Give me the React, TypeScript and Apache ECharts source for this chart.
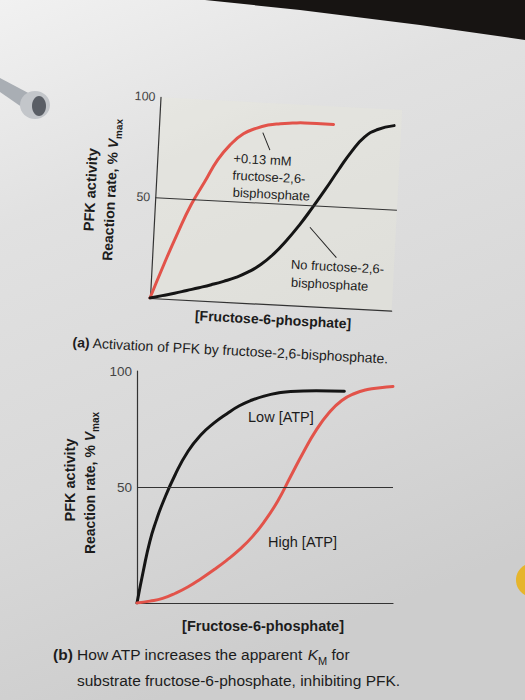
import React, { useEffect, useRef } from "react";
import * as echarts from "echarts";

// Panel (a): activation of PFK by fructose-2,6-bisphosphate ([F6P] in arbitrary units 0-10, rate in % Vmax)
const withF26BP: number[][] = [
  [0, 0], [0.5, 17], [1, 33], [1.5, 47.5], [2, 59], [2.5, 70.5], [3, 78.5], [3.5, 84],
  [4, 87], [4.5, 89], [5, 90], [5.5, 90.6], [6, 91], [6.5, 91], [7.2, 91],
];
const noF26BP: number[][] = [
  [0, 0], [0.5, 1.5], [1, 3], [1.5, 4.7], [2, 6.4], [2.5, 8.2], [3, 10.2], [3.5, 12.5],
  [4, 15.5], [4.5, 19.5], [5, 25], [5.5, 32], [6, 40], [6.5, 49], [7, 58.5], [7.5, 68.5],
  [8, 78], [8.5, 85.5], [9, 89.5], [9.7, 92],
];
// Panel (b): ATP raises the apparent KM
const lowATP: number[][] = [
  [0, 0], [0.25, 14], [0.5, 26.5], [0.75, 35.5], [1, 43], [1.5, 55.5], [2, 65.5], [2.5, 72.5],
  [3, 77.5], [3.5, 81.5], [4, 85], [4.5, 87.5], [5, 89.3], [5.5, 90.5], [6, 91.2], [7, 91.5], [8.1, 91.3],
];
const highATP: number[][] = [
  [0, 0], [0.5, 0.8], [1, 2], [1.5, 4.2], [2, 7], [2.5, 10.5], [3, 14.3], [3.5, 18.4], [4, 23],
  [4.5, 28.5], [5, 35.5], [5.5, 44], [6, 54.5], [6.5, 65], [7, 74.5], [7.5, 82], [8, 87.3],
  [8.5, 90.3], [9, 92], [9.5, 92.8], [10, 93.3],
];
const yTickValues = [0, 50, 100];
const yTickLabels = ["", "50", "100"];

const FONT = '"Liberation Sans", Arial, sans-serif';
const RED = "#e2534a";
const BLACK = "#151515";
const INK = "#1c1c1c";

function axisPair(grid: number, labelSize: number) {
  const x = {
    gridIndex: grid, type: "value", min: 0, max: 10,
    axisLine: { show: true, lineStyle: { color: "#333", width: 1.2 } },
    axisTick: { show: false }, axisLabel: { show: false }, splitLine: { show: false },
  };
  const y = {
    gridIndex: grid, type: "value", min: 0, max: 100, interval: 50,
    axisLine: { show: true, lineStyle: { color: "#333", width: 1.2 } },
    axisTick: { show: false }, splitLine: { show: false },
    axisLabel: {
      color: "#444", fontSize: labelSize, fontFamily: FONT, margin: 5,
      formatter: (v: number) => yTickLabels[yTickValues.indexOf(v)] ?? "",
    },
  };
  return { x, y };
}

function curve(data: number[][], color: string, withMark: boolean) {
  const s: any = {
    type: "line", data, smooth: 0.5,
    showSymbol: false, symbol: "none", silent: true,
    lineStyle: { color, width: 3, cap: "round", join: "round" },
  };
  if (withMark) {
    s.markLine = {
      silent: true, symbol: "none", label: { show: false },
      lineStyle: { color: "#333", width: 1, type: "solid" },
      data: [{ yAxis: 50 }],
    };
  }
  return s;
}

function txt(text: string, x: number, y: number, extra: any = {}) {
  return {
    type: "text", x, y, silent: true,
    style: {
      text, fontFamily: FONT, fontSize: 13, fill: INK,
      textAlign: "left", textVerticalAlign: "middle", ...extra,
    },
  };
}

function yTitle(cx1: number, cy1: number, cx2: number, cy2: number) {
  return [
    {
      type: "text", x: cx1, y: cy1, rotation: Math.PI / 2, silent: true,
      style: {
        text: "PFK activity", fontFamily: FONT, fontSize: 14.5, fontWeight: "bold",
        fill: INK, textAlign: "center", textVerticalAlign: "middle",
      },
    },
    {
      type: "text", x: cx2, y: cy2, rotation: Math.PI / 2, silent: true,
      style: {
        text: "{b|Reaction rate, % }{v|V}{s|max}",
        fontFamily: FONT, fill: INK, textAlign: "center", textVerticalAlign: "middle",
        rich: {
          b: { fontFamily: FONT, fontSize: 14, fontWeight: "bold", fill: INK, verticalAlign: "bottom" },
          v: { fontFamily: FONT, fontSize: 14, fontWeight: "bold", fontStyle: "italic", fill: INK, verticalAlign: "bottom" },
          s: { fontFamily: FONT, fontSize: 10, fontWeight: "bold", fill: INK, verticalAlign: "bottom", padding: [0, 0, -3, 0] },
        },
      },
    },
  ];
}

export default function App() {
  const refA = useRef<HTMLDivElement>(null);
  const refB = useRef<HTMLDivElement>(null);
  useEffect(() => {
    // Base layer: page background + panel (b)
    const chartB = echarts.init(refB.current!, null, { renderer: "svg" });
    const b = axisPair(0, 13.5);
    chartB.setOption({
      animation: false,
      backgroundColor: {
        type: "linear", x: 0, y: 0, x2: 0.3, y2: 1,
        colorStops: [
          { offset: 0, color: "#f1f1f1" },
          { offset: 0.3, color: "#e1e1e1" },
          { offset: 0.7, color: "#d8d8d8" },
          { offset: 1, color: "#cdcdcd" },
        ],
      },
      grid: [{ left: 137, top: 371, width: 256, height: 232, show: false }],
      xAxis: [b.x],
      yAxis: [b.y],
      series: [curve(lowATP, BLACK, true), curve(highATP, RED, false)],
      graphic: [
        { type: "polygon", silent: true, shape: { points: [[205, 0], [525, 0], [525, 40], [420, 25], [300, 10]] }, style: { fill: "#171412" } },
        { type: "polygon", silent: true, shape: { points: [[0, 78], [0, 92], [26, 110], [34, 96]] }, style: { fill: "#a9aeb4" } },
        { type: "ellipse", silent: true, shape: { cx: 35, cy: 105, rx: 15, ry: 14 }, style: { fill: "#c3c6ca" } },
        { type: "ellipse", silent: true, shape: { cx: 39, cy: 106, rx: 7, ry: 10 }, style: { fill: "#5a5e65" } },
        { type: "circle", silent: true, shape: { cx: 533, cy: 580, r: 17 }, style: { fill: "#e6b52c" } },
        txt("Low [ATP]", 248, 417, { fontSize: 14.5 }),
        txt("High [ATP]", 268, 542, { fontSize: 14.5 }),
        txt("[Fructose-6-phosphate]", 263, 626, { fontWeight: "bold", textAlign: "center", fontSize: 14.5 }),
        {
          type: "text", x: 53, y: 654, silent: true,
          style: {
            text: "{b|(b)} How ATP increases the apparent {k|K}{s|M} for",
            fontFamily: FONT, fontSize: 15.5, fill: INK, textVerticalAlign: "middle",
            rich: {
              b: { fontFamily: FONT, fontSize: 15.5, fontWeight: "bold", fill: INK, verticalAlign: "bottom" },
              k: { fontFamily: FONT, fontSize: 15.5, fontStyle: "italic", fill: INK, verticalAlign: "bottom" },
              s: { fontFamily: FONT, fontSize: 11, fill: INK, verticalAlign: "bottom", padding: [0, 0, -4, 0] },
            },
          },
        },
        txt("substrate fructose-6-phosphate, inhibiting PFK.", 77, 680, { fontSize: 15.5 }),
        ...yTitle(70, 480, 90, 483),
      ],
    });

    // Overlay: panel (a), tilted like the photographed page
    const chartA = echarts.init(refA.current!, null, { renderer: "svg" });
    const a = axisPair(0, 12.5);
    chartA.setOption({
      animation: false,
      backgroundColor: "transparent",
      grid: [{ left: 150, top: 97, width: 242, height: 201, show: true, borderWidth: 0, backgroundColor: "rgba(232,232,218,0.35)" }],
      xAxis: [a.x],
      yAxis: [a.y],
      series: [curve(withF26BP, RED, true), curve(noF26BP, BLACK, false)],
      graphic: [
        { type: "line", silent: true, shape: { x1: 254, y1: 127, x2: 262, y2: 144 }, style: { stroke: "#222", lineWidth: 1 } },
        txt("+0.13 mM", 226, 154),
        txt("fructose-2,6-", 226, 171),
        txt("bisphosphate", 227, 188),
        { type: "line", silent: true, shape: { x1: 306, y1: 219, x2: 334, y2: 248 }, style: { stroke: "#222", lineWidth: 1 } },
        txt("No fructose-2,6-", 289, 257),
        txt("bisphosphate", 290, 275),
        txt("[Fructose-6-phosphate]", 274, 313, { fontWeight: "bold", textAlign: "center", fontSize: 14 }),
        {
          type: "text", x: 75, y: 346, silent: true,
          style: {
            text: "{b|(a)} Activation of PFK by fructose-2,6-bisphosphate.",
            fontFamily: FONT, fontSize: 14, fill: INK, textVerticalAlign: "middle",
            rich: { b: { fontFamily: FONT, fontSize: 14, fontWeight: "bold", fill: INK } },
          },
        },
        ...yTitle(85, 193, 105, 192),
      ],
    });
    return () => {
      chartA.dispose();
      chartB.dispose();
    };
  }, []);
  return (
    <div style={{ position: "fixed", left: 0, top: 0, width: 525, height: 700, overflow: "hidden" }}>
      <div ref={refB} style={{ position: "absolute", left: 0, top: 0, width: 525, height: 700 }} />
      <div
        ref={refA}
        style={{
          position: "absolute", left: 0, top: 0, width: 525, height: 365,
          transform: "rotate(3deg)", transformOrigin: "150px 298px",
        }}
      />
    </div>
  );
}
